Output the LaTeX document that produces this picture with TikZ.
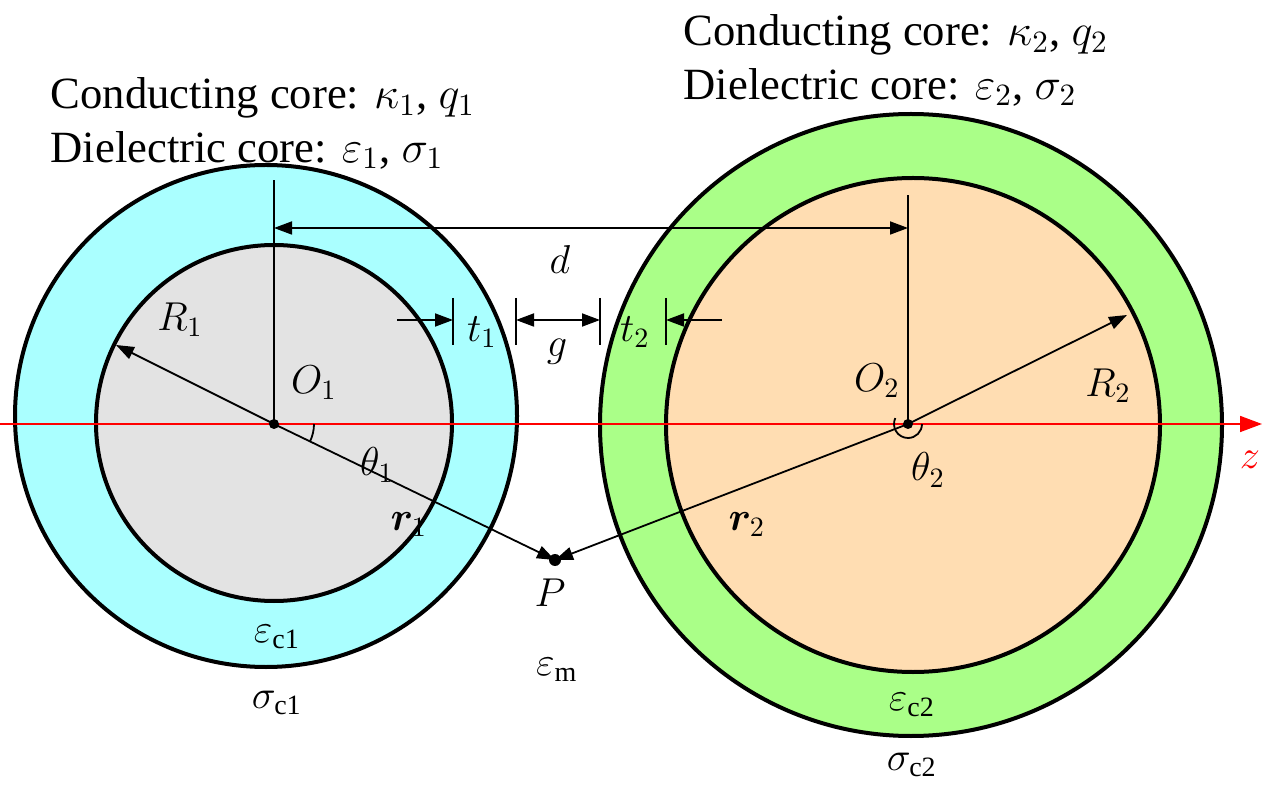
\documentclass[tikz,border=0pt]{standalone}
\usepackage{amsmath}
\usepackage{bm}
\usepackage{fontspec}
\setmainfont{Liberation Serif}
\usetikzlibrary{arrows.meta}
\definecolor{cy}{RGB}{170,255,255}
\definecolor{gr}{RGB}{227,227,227}
\definecolor{gn}{RGB}{170,255,136}
\definecolor{pe}{RGB}{255,221,178}
\begin{document}
\begin{tikzpicture}[x=1pt,y=-1pt,
  lab/.style={font=\Large,scale=2.8,inner sep=0pt},
  hd/.style={font=\Large,scale=3.1,inner sep=0pt,anchor=west},
  ln/.style={line width=1.8pt},
  tip/.tip={Triangle[length=18pt,width=13pt]},
  arr/.style={ln,-tip},
  circ/.style={line width=4pt}]
\useasboundingbox (0,0) rectangle (1267,791);
\fill[white] (0,0) rectangle (1267,791);
% circles
\draw[circ,fill=cy] (266,416) circle (251);
\draw[circ,fill=gr] (274,423) circle (178);
\draw[circ,fill=gn] (911,425) circle (311);
\draw[circ,fill=pe] (913,425) circle (247);
\coordinate (O1) at (274,424);
\coordinate (O2) at (908,424);
\coordinate (P) at (555,560);
% axis
\coordinate (zs) at (0,424); \coordinate (ze) at (1262,424);
\draw[red,line width=1.8pt,-{Triangle[length=22pt,width=16pt]}] (zs) -- (ze);
\node[lab,red] (z) at (1250,460) {$z$};
% d dimension
\coordinate (d1t) at (274,180); \coordinate (d2t) at (908,195);
\draw[ln] (O1) -- (d1t); \draw[ln] (O2) -- (d2t);
\coordinate (da) at (274,228); \coordinate (db) at (908,228);
\draw[ln,tip-tip] (da) -- (db);
\node[lab] (d) at (560,260) {$d$};
% t1 g t2
\foreach \x/\n in {453/a,516/b,600/c,666/e}{\coordinate (v\n t) at (\x,298); \coordinate (v\n b) at (\x,345); \draw[ln] (v\n t) -- (v\n b);}
\coordinate (t1s) at (397,320); \coordinate (t1e) at (453,320);
\draw[arr] (t1s) -- (t1e);
\coordinate (gl) at (516,320); \coordinate (gr) at (600,320);
\draw[ln,tip-tip] (gl) -- (gr);
\coordinate (t2s) at (722,320); \coordinate (t2e) at (666,320);
\draw[arr] (t2s) -- (t2e);
\node[lab] (t1) at (482,332) {$t_1$};
\node[lab] (g) at (557,352) {$g$};
\node[lab] (t2) at (635,332) {$t_2$};
% radii
\coordinate (R1e) at (116,345);
\draw[arr] (O1) -- (R1e);
\node[lab] (R1) at (180,320) {$R_1$};
\coordinate (R2e) at (1127,315);
\draw[arr] (O2) -- (R2e);
\node[lab] (R2) at (1108,386) {$R_2$};
\draw[arr] (O1) -- (P);
\draw[arr] (O2) -- (P);
\fill (O1) circle (5); \fill (O2) circle (5); \fill (P) circle (6);
\node[lab] (O1l) at (314,383) {$O_1$};
\node[lab] (O2l) at (877,381) {$O_2$};
\node[lab] (th1) at (377,465) {$\theta_1$};
\node[lab] (th2) at (928,470) {$\theta_2$};
\draw[ln] (314,424) arc (0:26:40);
\draw[ln] (922,424) arc (0:205:14);
\node[lab] (r1) at (409,525) {$\bm{r}_1$};
\node[lab] (r2) at (747,525) {$\bm{r}_2$};
\node[lab] (Pl) at (550,593) {$P$};
\node[lab] (ec1) at (277,637) {$\varepsilon_{\mathrm{c1}}$};
\node[lab] (sc1) at (277,703) {$\sigma_{\mathrm{c1}}$};
\node[lab] (em) at (557,670) {$\varepsilon_{\mathrm{m}}$};
\node[lab] (ec2) at (912,705) {$\varepsilon_{\mathrm{c2}}$};
\node[lab] (sc2) at (912,765) {$\sigma_{\mathrm{c2}}$};
\node[hd] (c1) at (50,98) {Conducting core: $\kappa_1$, $q_1$};
\node[hd] (c1b) at (50,150) {Dielectric core: $\varepsilon_1$, $\sigma_1$};
\node[hd] (c2) at (683,35) {Conducting core: $\kappa_2$, $q_2$};
\node[hd] (c2b) at (683,87) {Dielectric core: $\varepsilon_2$, $\sigma_2$};
\end{tikzpicture}
\end{document}
